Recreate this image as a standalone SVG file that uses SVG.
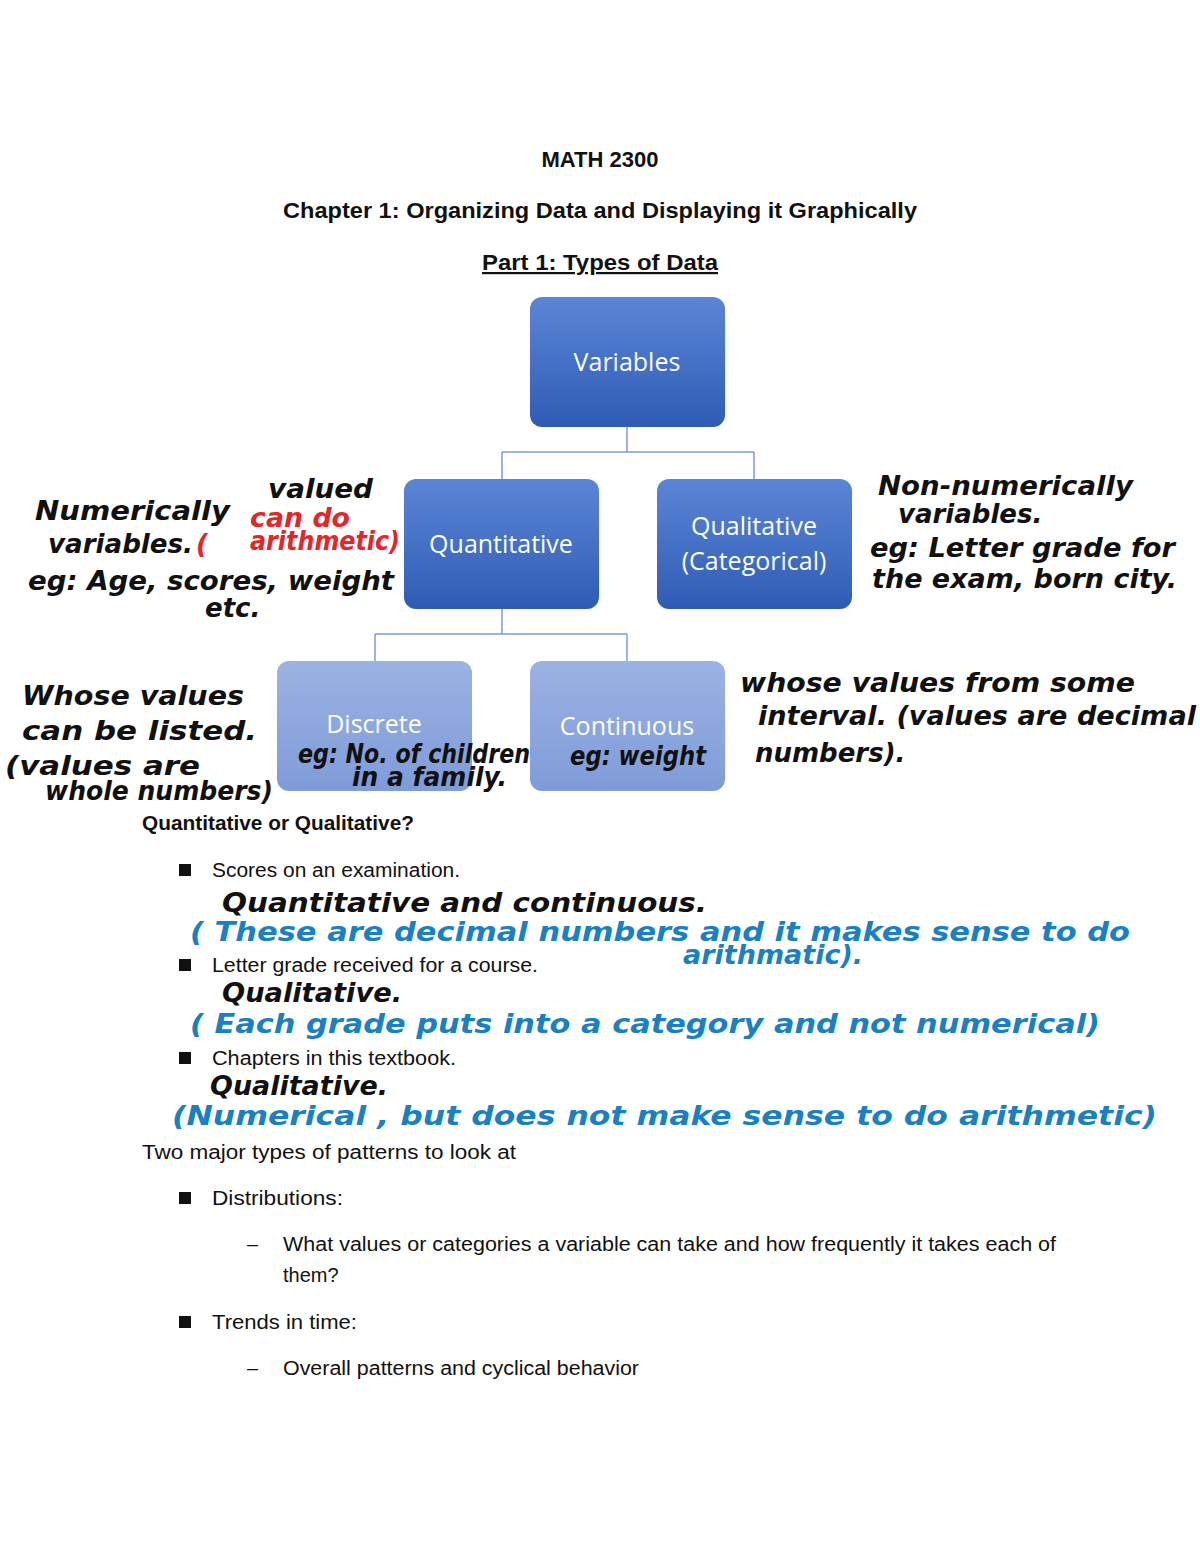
<svg xmlns="http://www.w3.org/2000/svg" width="1200" height="1553" viewBox="0 0 1200 1553">
<defs>
<linearGradient id="gD" x1="0" y1="0" x2="0" y2="1"><stop offset="0" stop-color="#5b86d6"/><stop offset="1" stop-color="#2f5bb5"/></linearGradient>
<linearGradient id="gL" x1="0" y1="0" x2="0" y2="1"><stop offset="0" stop-color="#9bb2e3"/><stop offset="1" stop-color="#7f9bd8"/></linearGradient>
<style>
.t{font-family:"Liberation Sans",Arial,sans-serif;fill:#111}
.h{font-weight:bold;font-size:22px;text-anchor:middle}
.b{font-family:"Open Sans","Liberation Sans",sans-serif;fill:#fff;font-size:25px;text-anchor:middle}
.p{font-size:20px}
.hw{font-family:"DejaVu Sans",sans-serif;font-weight:bold;font-style:italic;font-size:26px;fill:#111}
.red{fill:#e62528}
.blue{fill:#1a80c4}
.c{stroke:#7f9bd8;stroke-width:1.5;fill:none}
</style>
</defs>
<rect width="1200" height="1553" fill="#fff"/>
<text class="t h" x="600" y="167">MATH 2300</text>
<text class="t h" x="600" y="218" textLength="634" lengthAdjust="spacingAndGlyphs">Chapter 1: Organizing Data and Displaying it Graphically</text>
<text class="t h" x="600" y="270" text-decoration="underline" textLength="236" lengthAdjust="spacingAndGlyphs">Part 1: Types of Data</text>
<g id="connectors">
<path class="c" d="M627 427V452M502 452H754M502 452V479M754 452V479"/>
<path class="c" d="M502 609V634M375 634H627M375 634V661M627 634V661"/>
</g>
<g id="variables"><rect x="530" y="297" width="195" height="130" rx="12" fill="url(#gD)"/><text class="b" x="627" y="371">Variables</text></g>
<g id="quantitative"><rect x="404" y="479" width="195" height="130" rx="12" fill="url(#gD)"/><text class="b" x="501" y="553">Quantitative</text></g>
<g id="qualitative"><rect x="657" y="479" width="195" height="130" rx="12" fill="url(#gD)"/><text class="b" x="754" y="535">Qualitative</text><text class="b" x="754" y="570">(Categorical)</text></g>
<g id="discrete"><rect x="277" y="661" width="195" height="130" rx="12" fill="url(#gL)"/><text class="b" x="374" y="733">Discrete</text></g>
<g id="continuous"><rect x="530" y="661" width="195" height="130" rx="12" fill="url(#gL)"/><text class="b" x="627" y="735">Continuous</text></g>
<g id="annotations">
<text class="hw" x="35" y="520" font-size="30" textLength="195" lengthAdjust="spacingAndGlyphs">Numerically</text><text class="hw" x="268" y="498" textLength="105" lengthAdjust="spacingAndGlyphs">valued</text>
<text class="hw" x="48" y="553" textLength="145" lengthAdjust="spacingAndGlyphs">variables.</text><text class="hw red" x="196" y="553" font-size="34">(</text>
<text class="hw red" x="250" y="527" font-size="22" textLength="100" lengthAdjust="spacingAndGlyphs">can do</text><text class="hw red" x="250" y="550" font-size="22" textLength="150" lengthAdjust="spacingAndGlyphs">arithmetic)</text>
<text class="hw" x="28" y="590" textLength="366" lengthAdjust="spacingAndGlyphs">eg:  Age, scores, weight</text>
<text class="hw" x="205" y="617">etc.</text>
<text class="hw" x="878" y="495" font-size="29" textLength="255" lengthAdjust="spacingAndGlyphs">Non-numerically</text>
<text class="hw" x="898" y="523">variables.</text>
<text class="hw" x="870" y="557" textLength="305" lengthAdjust="spacingAndGlyphs">eg: Letter grade for</text>
<text class="hw" x="872" y="588" textLength="305" lengthAdjust="spacingAndGlyphs">the exam, born city.</text>
<text class="hw" x="22" y="705" textLength="222" lengthAdjust="spacingAndGlyphs">Whose  values</text>
<text class="hw" x="22" y="740" textLength="235" lengthAdjust="spacingAndGlyphs">can  be  listed.</text>
<text class="hw" x="5" y="775" textLength="195" lengthAdjust="spacingAndGlyphs">(values  are</text>
<text class="hw" x="45" y="800" textLength="228" lengthAdjust="spacingAndGlyphs">whole   numbers)</text>
<text class="hw" x="298" y="763" font-size="22" textLength="232" lengthAdjust="spacingAndGlyphs">eg: No. of children</text>
<text class="hw" x="352" y="786" font-size="21" textLength="155" lengthAdjust="spacingAndGlyphs">in a family.</text>
<text class="hw" x="570" y="765" font-size="24" textLength="136" lengthAdjust="spacingAndGlyphs">eg: weight</text>
<text class="hw" x="740" y="692" textLength="395" lengthAdjust="spacingAndGlyphs">whose  values  from  some</text>
<text class="hw" x="758" y="725" textLength="438" lengthAdjust="spacingAndGlyphs">interval. (values  are decimal</text>
<text class="hw" x="755" y="762">numbers).</text>
</g>
<g id="text">
<text class="t p" x="142" y="830" font-weight="bold" textLength="272" lengthAdjust="spacingAndGlyphs">Quantitative or Qualitative?</text>
<rect x="179" y="864" width="12" height="12" fill="#111"/><text class="t p" x="212" y="877" textLength="248" lengthAdjust="spacingAndGlyphs">Scores on an examination.</text>
<text class="hw" x="222" y="912" font-size="29" textLength="485" lengthAdjust="spacingAndGlyphs">Quantitative  and  continuous.</text>
<text class="hw blue" x="190" y="941" font-size="25" textLength="940" lengthAdjust="spacingAndGlyphs">( These  are  decimal numbers  and  it makes  sense  to  do</text>
<text class="hw blue" x="683" y="964" font-size="18" textLength="180" lengthAdjust="spacingAndGlyphs">arithmatic).</text>
<rect x="179" y="959" width="12" height="12" fill="#111"/><text class="t p" x="212" y="972" textLength="326" lengthAdjust="spacingAndGlyphs">Letter grade received for a course.</text>
<text class="hw" x="222" y="1002" font-size="29" textLength="180" lengthAdjust="spacingAndGlyphs">Qualitative.</text>
<text class="hw blue" x="190" y="1033" font-size="27" textLength="910" lengthAdjust="spacingAndGlyphs">( Each  grade  puts  into  a  category  and  not  numerical)</text>
<rect x="179" y="1052" width="12" height="12" fill="#111"/><text class="t p" x="212" y="1065" textLength="244" lengthAdjust="spacingAndGlyphs">Chapters in this textbook.</text>
<text class="hw" x="210" y="1095" font-size="29" textLength="178" lengthAdjust="spacingAndGlyphs">Qualitative.</text>
<text class="hw blue" x="172" y="1125" font-size="28" textLength="985" lengthAdjust="spacingAndGlyphs">(Numerical , but does not  make  sense  to  do  arithmetic)</text>
<text class="t p" x="142" y="1159" textLength="374" lengthAdjust="spacingAndGlyphs">Two major types of patterns to look at</text>
<rect x="179" y="1192" width="12" height="12" fill="#111"/><text class="t p" x="212" y="1205" textLength="131" lengthAdjust="spacingAndGlyphs">Distributions:</text>
<text class="t p" x="247" y="1251">–</text><text class="t p" x="283" y="1251" textLength="773" lengthAdjust="spacingAndGlyphs">What values or categories a variable can take and how frequently it takes each of</text>
<text class="t p" x="283" y="1282">them?</text>
<rect x="179" y="1316" width="12" height="12" fill="#111"/><text class="t p" x="212" y="1329" textLength="145" lengthAdjust="spacingAndGlyphs">Trends in time:</text>
<text class="t p" x="247" y="1375">–</text><text class="t p" x="283" y="1375" textLength="356" lengthAdjust="spacingAndGlyphs">Overall patterns and cyclical behavior</text>
</g>
</svg>
